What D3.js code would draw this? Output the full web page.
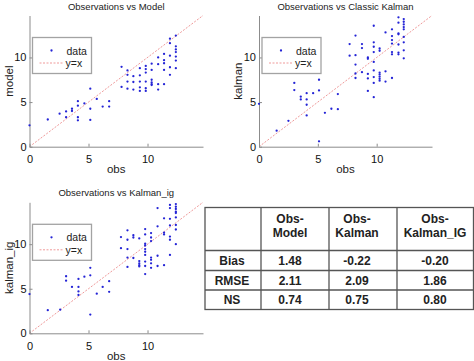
<!DOCTYPE html>
<html>
<head>
<meta charset="utf-8">
<script src="https://cdn.jsdelivr.net/npm/d3@7"></script>
<style>
  body { margin: 0; background: #fff; }
  svg { display: block; font-family: "Liberation Sans", Arial, sans-serif; }
</style>
</head>
<body>
<div id="chart"></div>
<script>
// ---- data ----
var tickValues = [0, 5, 10];
var axisMax = 14.7;

// Observations vs Model
var obsModel = [0, 1.55, 2.55, 3.1, 3.1, 3.6, 3.6, 4.1, 4.1, 4.1, 4.1, 4.65, 5.15, 5.15, 5.15, 5.7, 6.2, 6.75, 6.75,
    7.8, 7.8, 8.3, 8.3, 8.3, 8.3, 8.8, 8.8, 8.8, 9.35, 9.35, 9.35, 9.35, 9.35,
    9.85, 9.85, 9.85, 9.85, 9.85, 9.85, 10.35, 10.35, 10.35, 10.35, 10.35, 10.35,
    10.9, 10.9, 10.9, 10.9, 11.4, 11.4, 11.4, 11.4, 11.4, 11.9, 11.9, 11.9, 11.9, 11.9,
    12.4, 12.4, 12.4, 12.4, 12.4, 12.4, 12.4];
var model = [2.4, 3.05, 3.7, 3.95, 3.3, 4.25, 4.0, 5.1, 4.6, 3.3, 2.95, 4.85, 6.5, 4.25, 3.0, 5.35, 4.5, 5.1, 4.5,
    8.95, 6.7, 8.55, 8.05, 7.3, 6.5, 7.9, 7.25, 6.4, 8.8, 8.0, 7.3, 6.65, 6.25,
    9.05, 8.7, 8.3, 7.3, 6.55, 6.25, 9.3, 8.6, 7.5, 7.2, 7.0, 6.9,
    10.0, 9.25, 7.0, 6.4, 10.4, 9.7, 9.35, 8.6, 7.0, 12.1, 11.6, 10.2, 8.9, 8.05,
    12.45, 11.25, 10.9, 10.6, 10.1, 9.65, 8.8];

// Observations vs Classic Kalman
var obsKalman = [0, 1.5, 2.5, 3.0, 3.0, 3.55, 3.55, 4.05, 4.05, 4.05, 4.05, 4.6, 5.1, 5.1, 5.1, 5.6, 6.15, 6.7, 6.7,
    7.7, 7.7, 8.2, 8.2, 8.2, 8.2, 8.2, 8.75, 8.75, 8.75, 9.25, 9.25, 9.25, 9.25, 9.25,
    9.75, 9.75, 9.75, 9.75, 9.75, 9.75, 9.75, 9.75, 9.75,
    10.25, 10.25, 10.25, 10.25, 10.25, 10.25, 10.25, 10.75, 10.75, 10.75,
    11.3, 11.3, 11.3, 11.3, 11.3, 11.3, 11.3, 11.85, 11.85, 11.85, 11.85, 11.85, 11.85, 11.85,
    12.3, 12.3, 12.3, 12.3, 12.3, 12.3, 12.3, 12.3, 12.3];
var kalman = [4.8, 1.8, 2.9, 7.15, 6.35, 5.6, 5.3, 6.0, 5.3, 4.7, 3.5, 6.0, 7.5, 6.3, 0.6, 3.8, 4.25, 5.9, 4.2,
    11.5, 10.2, 12.45, 10.25, 9.2, 8.2, 7.7, 11.5, 11.05, 8.35, 10.0, 9.85, 8.15, 7.65, 6.25,
    13.55, 11.7, 11.2, 10.6, 9.5, 8.55, 7.8, 7.15, 5.55,
    11.0, 10.75, 8.3, 8.1, 7.85, 7.6, 7.4, 12.8, 8.45, 7.3,
    13.15, 12.4, 11.95, 11.55, 10.6, 10.35, 7.7, 14.5, 13.9, 12.7, 12.6, 11.45, 10.55, 10.35,
    14.3, 14.0, 13.7, 13.4, 13.15, 12.3, 11.7, 10.8, 9.9];

// Observations vs Kalman_ig
var obsIg = [0, 1.55, 2.6, 3.1, 3.1, 3.6, 4.15, 4.15, 4.15, 4.15, 4.65, 5.15, 5.15, 5.15, 5.7, 6.2, 6.75, 6.75,
    7.75, 7.75, 8.3, 8.3, 8.3, 8.3, 8.3, 8.8, 8.8, 8.8, 9.3, 9.3, 9.3, 9.3, 9.3,
    9.8, 9.8, 9.8, 9.8, 9.8, 9.8, 9.8, 9.8, 9.8, 9.8,
    10.3, 10.3, 10.3, 10.3, 10.3, 10.3, 10.3, 10.85, 10.85, 10.85, 10.85,
    11.4, 11.4, 11.4, 11.4, 11.9, 11.9, 11.9, 11.9, 11.9, 11.9, 11.9,
    12.4, 12.4, 12.4, 12.4, 12.4, 12.4, 12.4, 12.4, 12.4];
var kalmanIg = [4.4, 2.6, 2.65, 6.4, 5.9, 5.2, 6.1, 5.2, 4.7, 4.3, 6.35, 7.35, 6.5, 2.1, 4.45, 5.2, 5.85, 4.65,
    10.8, 9.55, 11.55, 10.5, 9.45, 8.5, 7.45, 11.0, 10.75, 8.45, 10.65, 8.1, 7.85, 7.65, 7.5,
    11.7, 11.1, 10.05, 9.85, 9.45, 9.15, 8.8, 8.05, 7.55, 6.65,
    11.25, 10.75, 10.35, 8.5, 8.25, 7.85, 7.35, 14.05, 12.0, 8.7, 7.55,
    12.9, 11.3, 11.1, 7.65, 14.4, 14.05, 12.85, 12.1, 10.85, 10.5, 8.8,
    14.5, 14.2, 13.95, 13.65, 13.5, 13.0, 12.15, 11.65, 10.0];

// statistics table
var statNames = ["Bias", "RMSE", "NS"];
var colHeaders = [["Obs-", "Model"], ["Obs-", "Kalman"], ["Obs-", "Kalman_IG"]];
var statObsModel = [1.48, 2.11, 0.74];
var statObsKalman = [-0.22, 2.09, 0.75];
var statObsKalmanIg = [-0.20, 1.86, 0.80];

var svg = d3.select("#chart")
    .append("svg")
    .attr("width", 474)
    .attr("height", 361);

/**
 * Draws one scatter panel (obs on x, estimate on y) with the y=x reference line
 */
function drawPanel(p) {
    var x = d3.scaleLinear().domain([0, axisMax]).range([p.left, p.right]);
    var y = d3.scaleLinear().domain([0, axisMax]).range([p.bottom, p.top]);

    var data = p.xs.map(function (v, i) {
        return {obs: v, est: p.ys[i]};
    });

    // title
    svg.append("text")
        .attr("x", (p.left + p.right) / 2)
        .attr("y", p.top - 6)
        .attr("text-anchor", "middle")
        .style("font-size", "9.5px")
        .style("fill", "#222")
        .text(p.title);

    // y = x line
    svg.append("line")
        .attr("x1", x(0)).attr("y1", y(0))
        .attr("x2", x(axisMax)).attr("y2", y(axisMax))
        .attr("stroke", "#ef9a9a")
        .attr("stroke-width", 1)
        .attr("stroke-dasharray", "2,1.5");

    // axes
    var xAxis = svg.append("g")
        .attr("transform", "translate(0," + p.bottom + ")")
        .call(d3.axisBottom(x).tickValues(tickValues).tickSizeInner(-3).tickSizeOuter(0).tickPadding(9));
    var yAxis = svg.append("g")
        .attr("transform", "translate(" + p.left + ",0)")
        .call(d3.axisLeft(y).tickValues(tickValues).tickSizeInner(-3).tickSizeOuter(0).tickPadding(3));
    [xAxis, yAxis].forEach(function (g) {
        g.select(".domain").attr("stroke", "#8c8c8c");
        g.selectAll(".tick line").attr("stroke", "#8c8c8c");
        g.selectAll(".tick text")
            .style("font-family", "'Liberation Sans', Arial, sans-serif")
            .style("font-size", "11px")
            .attr("fill", "#111");
    });

    // axis labels
    svg.append("text")
        .attr("x", (p.left + p.right) / 2)
        .attr("y", p.bottom + 26.3)
        .attr("text-anchor", "middle")
        .style("font-size", "11.5px")
        .style("fill", "#222")
        .text("obs");
    svg.append("text")
        .attr("transform", "translate(" + (p.left - 17) + "," + ((p.top + p.bottom) / 2) + ") rotate(-90)")
        .attr("text-anchor", "middle")
        .style("font-size", "11.5px")
        .style("fill", "#222")
        .text(p.ylabel);

    // data points
    svg.append("g")
        .selectAll("circle")
        .data(data)
        .enter()
        .append("circle")
        .attr("cx", function (d) { return x(d.obs); })
        .attr("cy", function (d) { return y(d.est); })
        .attr("r", 1.15)
        .attr("fill", "#2424d6");

    // legend
    var lx = p.left + 3, ly = p.top + 22;
    svg.append("rect")
        .attr("x", lx).attr("y", ly)
        .attr("width", 59).attr("height", 36)
        .attr("fill", "#fff")
        .attr("stroke", "#a3a3a3")
        .attr("stroke-width", 1.3);
    svg.append("circle")
        .attr("cx", lx + 19).attr("cy", ly + 13)
        .attr("r", 1.15)
        .attr("fill", "#2424d6");
    svg.append("text")
        .attr("x", lx + 34).attr("y", ly + 17)
        .style("font-size", "10.5px")
        .style("fill", "#222")
        .text("data");
    svg.append("line")
        .attr("x1", lx + 7).attr("x2", lx + 31)
        .attr("y1", ly + 25.5).attr("y2", ly + 25.5)
        .attr("stroke", "#ef9a9a")
        .attr("stroke-dasharray", "2,1.5");
    svg.append("text")
        .attr("x", lx + 33).attr("y", ly + 29.5)
        .style("font-size", "10.5px")
        .style("fill", "#222")
        .text("y=x");
}

drawPanel({left: 29.5, right: 203, top: 15.5, bottom: 146.7,
    xs: obsModel, ys: model, title: "Observations vs Model", ylabel: "model"});
drawPanel({left: 259, right: 432, top: 15.5, bottom: 146.7,
    xs: obsKalman, ys: kalman, title: "Observations vs Classic Kalman", ylabel: "kalman"});
drawPanel({left: 29.5, right: 203, top: 202.3, bottom: 333.3,
    xs: obsIg, ys: kalmanIg, title: "Observations vs Kalman_ig", ylabel: "kalman_ig"});

// ---- statistics table ----
var colEdges = [205, 261, 329, 397, 473.5];
var rowEdges = [207.5, 250.5, 270.5, 290, 309.5];
var textCenters = [232, 290, 357, 435];
var columns = [statObsModel, statObsKalman, statObsKalmanIg];
var table = svg.append("g");

table.append("rect")
    .attr("x", colEdges[0]).attr("y", rowEdges[0])
    .attr("width", colEdges[4] - colEdges[0])
    .attr("height", rowEdges[4] - rowEdges[0])
    .attr("fill", "#fff")
    .attr("stroke", "#555")
    .attr("stroke-width", 1.3);
colEdges.slice(1, 4).forEach(function (cx) {
    table.append("line")
        .attr("x1", cx).attr("x2", cx)
        .attr("y1", rowEdges[0]).attr("y2", rowEdges[4])
        .attr("stroke", "#555").attr("stroke-width", 1.3);
});
rowEdges.slice(1, 4).forEach(function (ry) {
    table.append("line")
        .attr("x1", colEdges[0]).attr("x2", colEdges[4])
        .attr("y1", ry).attr("y2", ry)
        .attr("stroke", "#555").attr("stroke-width", 1.3);
});

// header cells
colHeaders.forEach(function (lines, c) {
    lines.forEach(function (line, k) {
        table.append("text")
            .attr("x", textCenters[c + 1])
            .attr("y", 222.5 + k * 14.5)
            .attr("text-anchor", "middle")
            .style("font-size", "12px")
            .style("font-weight", "bold")
            .style("fill", "#222")
            .text(line);
    });
});

// body rows
statNames.forEach(function (name, r) {
    var cy = (rowEdges[r + 1] + rowEdges[r + 2]) / 2 + 4.3;
    table.append("text")
        .attr("x", textCenters[0]).attr("y", cy)
        .attr("text-anchor", "middle")
        .style("font-size", "12px")
        .style("font-weight", "bold")
        .style("fill", "#222")
        .text(name);
    columns.forEach(function (vals, c) {
        table.append("text")
            .attr("x", textCenters[c + 1]).attr("y", cy)
            .attr("text-anchor", "middle")
            .style("font-size", "12px")
            .style("font-weight", "bold")
            .style("fill", "#222")
            .text(vals[r].toFixed(2));
    });
});
</script>
</body>
</html>
